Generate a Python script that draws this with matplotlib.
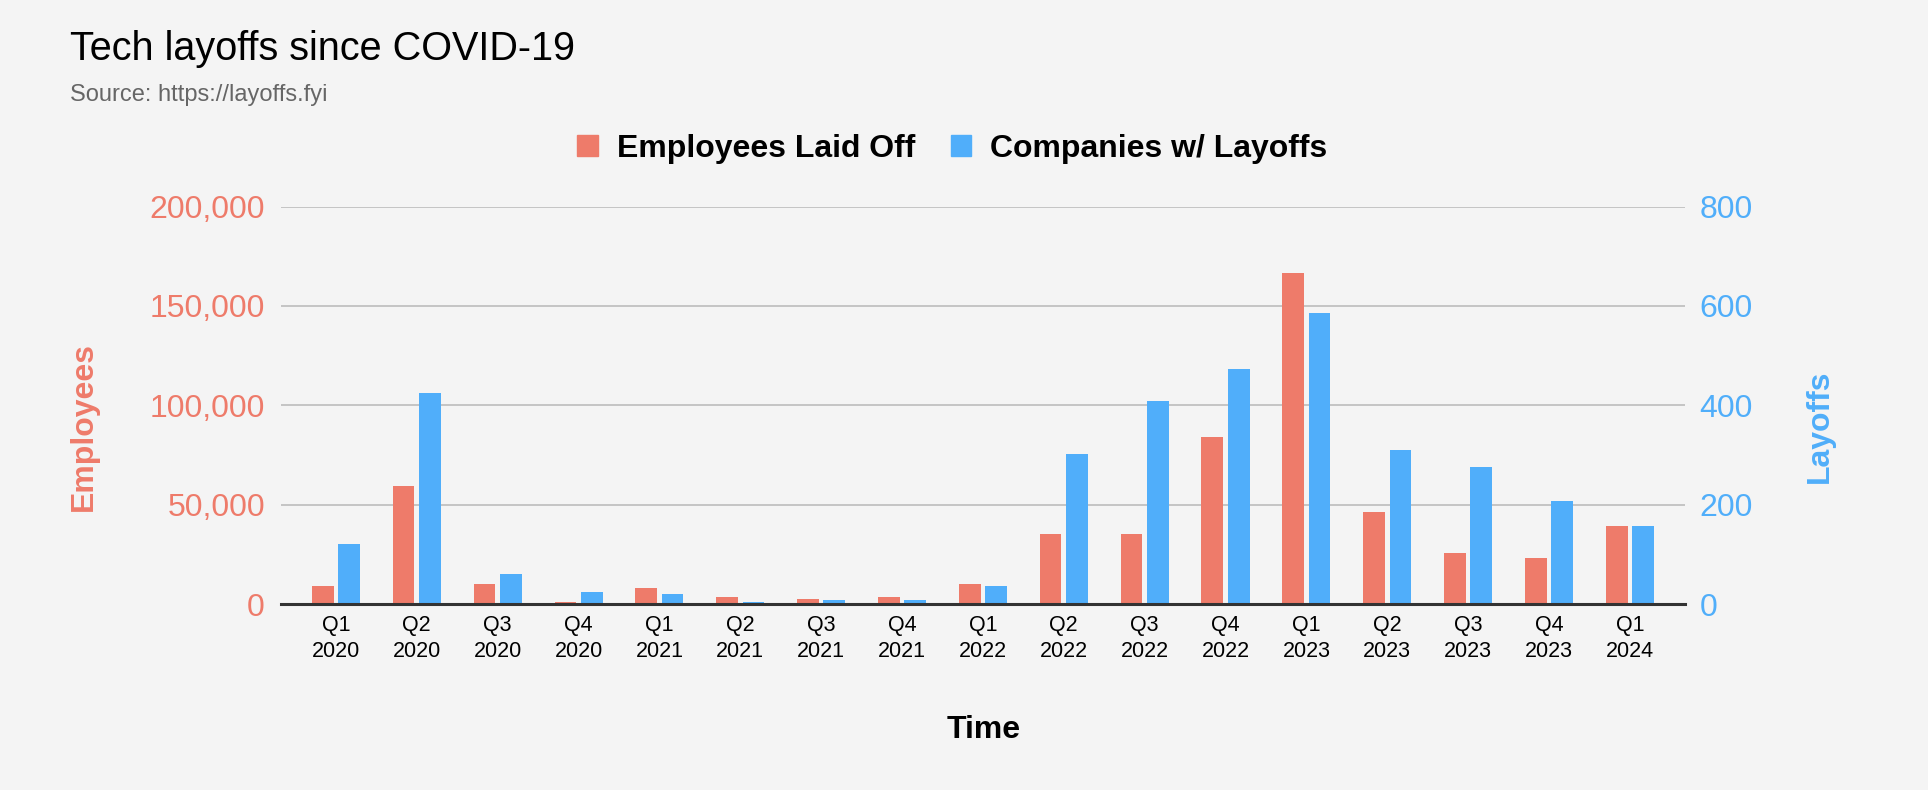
import matplotlib.pyplot as plt
import numpy as np
from matplotlib.patches import Patch
from matplotlib.ticker import FuncFormatter

plt.rcParams['font.family'] = ['Liberation Sans', 'DejaVu Sans']

quarters = ["Q1\n2020", "Q2\n2020", "Q3\n2020", "Q4\n2020",
            "Q1\n2021", "Q2\n2021", "Q3\n2021", "Q4\n2021",
            "Q1\n2022", "Q2\n2022", "Q3\n2022", "Q4\n2022",
            "Q1\n2023", "Q2\n2023", "Q3\n2023", "Q4\n2023",
            "Q1\n2024"]
employees = [9200, 59300, 10300, 1200, 8200, 3300, 2300, 3300,
             10200, 35200, 35200, 84300, 166500, 46500, 25500, 23300, 39500]
companies = [121, 425, 61, 25, 21, 5, 9, 9,
             37, 301, 409, 473, 586, 311, 276, 207, 158]

red = '#EE7B6A'
blue = '#50AEFA'
bg = '#F4F4F4'

fig = plt.figure(figsize=(19.28, 7.9), dpi=100, facecolor=bg)
ax = fig.add_axes([0.1457, 0.2354, 0.7282, 0.5031], facecolor=bg)
ax2 = ax.twinx()

x = np.arange(len(quarters))
w = 0.268
ax.bar(x - 0.163, employees, w, color=red, zorder=3)
ax2.bar(x + 0.163, companies, w, color=blue, zorder=3)

ax.set_xlim(-0.68, len(quarters) - 1 + 0.68)
ax.set_ylim(0, 200000)
ax2.set_ylim(0, 800)
ax.set_yticks([0, 50000, 100000, 150000, 200000])
ax2.set_yticks([0, 200, 400, 600, 800])
ax.yaxis.set_major_formatter(FuncFormatter(lambda v, p: f"{int(v):,}"))
ax.grid(axis='y', color='#C0C0C0', linewidth=1.3, zorder=0)
ax.set_axisbelow(True)

for a in (ax, ax2):
    for s in a.spines.values():
        s.set_visible(False)
    a.tick_params(length=0)
ax2.spines['bottom'].set_visible(True)
ax2.spines['bottom'].set_color('#333333')
ax2.spines['bottom'].set_linewidth(2.2)
ax2.spines['bottom'].set_zorder(5)

ax.set_xticks(x)
ax.set_xticklabels(quarters, fontsize=15.5, linespacing=1.3)
ax.tick_params(axis='x', pad=8)
ax.tick_params(axis='y', labelcolor=red, labelsize=23, pad=11.5)
ax2.tick_params(axis='y', labelcolor=blue, labelsize=23, pad=10.5)

fig.text(0.0434, 0.4603, "Employees", color=red, fontsize=23, fontweight='bold',
         rotation=90, ha='center', va='center')
fig.text(0.9439, 0.4603, "Layoffs", color=blue, fontsize=23, fontweight='bold',
         rotation=90, ha='center', va='center')
fig.text(0.5102, 0.0765, "Time", fontsize=23, fontweight='bold', ha='center', va='center')

fig.text(0.03635, 0.9378, "Tech layoffs since COVID-19", fontsize=28.5, va='center')
fig.text(0.03635, 0.880, "Source: https://layoffs.fyi", fontsize=17, color='#666666', va='center')

handles = [Patch(color=red, label="Employees Laid Off"),
           Patch(color=blue, label="Companies w/ Layoffs")]
fig.legend(handles=handles, loc='center', bbox_to_anchor=(0.494, 0.812), ncol=2,
           frameon=False, prop={'size': 23, 'weight': 'bold'},
           handlelength=0.65, handleheight=0.65, handletextpad=0.6, columnspacing=1.1)

fig.savefig('out.png', dpi=100, facecolor=bg)
